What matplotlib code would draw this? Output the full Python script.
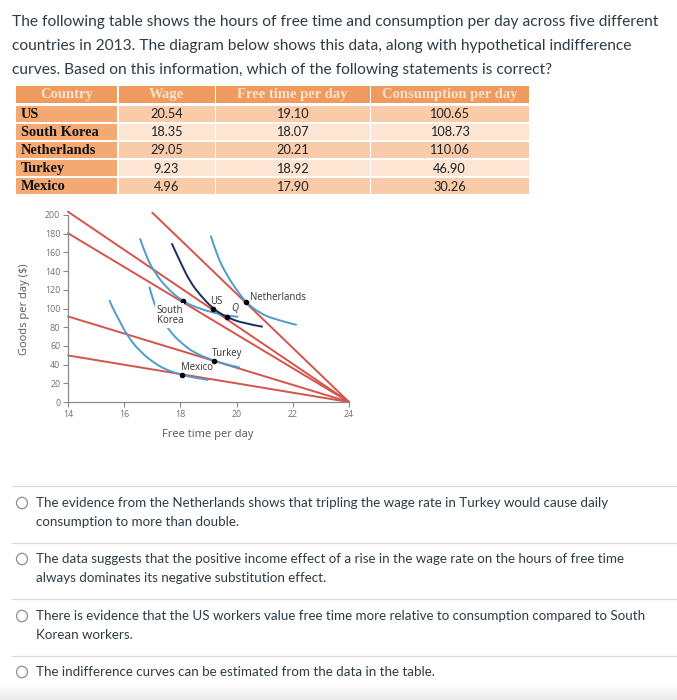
import matplotlib
matplotlib.use("Agg")
import matplotlib.pyplot as plt
from matplotlib.patches import Rectangle, Circle, PathPatch
from matplotlib.path import Path
import numpy as np

# ---------------- data ----------------
title_lines = [
    "The following table shows the hours of free time and consumption per day across five different",
    "countries in 2013. The diagram below shows this data, along with hypothetical indifference",
    "curves. Based on this information, which of the following statements is correct?",
]
table_header = ["Country", "Wage", "Free time per day", "Consumption per day"]
countries = ["US", "South Korea", "Netherlands", "Turkey", "Mexico"]
wage = ["20.54", "18.35", "29.05", "9.23", "4.96"]
free_time = ["19.10", "18.07", "20.21", "18.92", "17.90"]
consumption = ["100.65", "108.73", "110.06", "46.90", "30.26"]

# budget lines: start point (x, y), all end at (24, 0)
budget_x0 = [14, 14, 17, 14, 14]          # US, SK, NL, Turkey, Mexico
budget_y0 = [203.5, 180.5, 202.5, 91.5, 49.8]
budget_end = (24, 0)

# indifference curves
ic_mx_x = [15.47, 15.62, 15.79, 16.09, 16.56, 17.16, 17.6, 18.05, 18.5, 19.0]
ic_mx_y = [109.0, 98.5, 89.5, 71.7, 53.8, 39.6, 33.3, 28.9, 26.0, 23.5]
ic_tr_x = [16.89, 17.02, 17.16, 17.57, 18.10, 18.58, 19.2, 19.65, 20.12]
ic_tr_y = [123.3, 110.0, 98.4, 77.0, 61.0, 51.3, 44.2, 40.0, 36.7]
ic_sk_x = [16.56, 16.80, 17.10, 17.51, 18.08, 18.70, 19.29, 19.65, 20.06]
ic_sk_y = [175.0, 154.0, 138.0, 122.0, 107.5, 99.5, 94.8, 92.0, 91.2]
ic_us_x = [17.69, 17.99, 18.34, 18.70, 19.17, 19.65, 20.24, 20.93]
ic_us_y = [169.7, 150.0, 128.7, 114.4, 99.5, 90.6, 84.1, 80.5]
ic_nl_x = [19.08, 19.29, 19.65, 20.00, 20.33, 20.83, 21.43, 22.14]
ic_nl_y = [177.9, 157.2, 135.8, 119.8, 106.6, 94.8, 87.7, 82.4]

# points on the diagram
pt_names = ["US", "South\nKorea", "Netherlands", "Turkey", "Mexico", "Q"]
pt_x = [19.17, 18.08, 20.33, 19.20, 18.05, 19.65]
pt_y = [99.5, 107.5, 106.6, 44.2, 28.9, 90.6]
lbl_x = [19.27, 17.15, 20.48, 19.11, 18.01, 19.80]
lbl_y = [108.0, 92.5, 111.5, 52.4, 36.4, 99.5]

x_ticks = [14, 16, 18, 20, 22, 24]
y_ticks = [0, 20, 40, 60, 80, 100, 120, 140, 160, 180, 200]

options = [
    ["The evidence from the Netherlands shows that tripling the wage rate in Turkey would cause daily",
     "consumption to more than double."],
    ["The data suggests that the positive income effect of a rise in the wage rate on the hours of free time",
     "always dominates its negative substitution effect."],
    ["There is evidence that the US workers value free time more relative to consumption compared to South",
     "Korean workers."],
    ["The indifference curves can be estimated from the data in the table."],
]

# ---------------- figure ----------------
W, H = 677, 700
fig = plt.figure(figsize=(W / 100, H / 100), dpi=100)
fig.patch.set_facecolor("white")


def fx(px):
    return px / W


def fy(py):
    return 1 - py / H


TXT = "#2d3b45"
MAIN_FONT = ["Lato", "DejaVu Sans"]

# title
for i, line in enumerate(title_lines):
    fig.text(fx(12), fy(22 + 24 * i), line, fontsize=11.2, color=TXT,
             family=MAIN_FONT, va="center", ha="left")

# table
col_edges = [16, 118, 215, 370, 529]
hdr_top, hdr_h = 86, 16.5
row_top0, row_pitch, row_h = 105.5, 18.1, 16.5
HDR_COL = "#ef9a5e"
FIRST_COL = "#f4a872"
ROW_DARK = "#f9cba9"
ROW_LIGHT = "#fce5d3"
SERIF = ["Liberation Serif", "DejaVu Serif"]

for c in range(4):
    x0 = col_edges[c] + (1 if c > 0 else 0)
    w = col_edges[c + 1] - col_edges[c] - 1.5
    fig.patches.append(Rectangle((fx(x0), fy(hdr_top + hdr_h)), w / W, hdr_h / H,
                                 transform=fig.transFigure, facecolor=HDR_COL,
                                 edgecolor="none"))
    fig.text(fx((col_edges[c] + col_edges[c + 1]) / 2), fy(hdr_top + hdr_h / 2 + 0.5),
             table_header[c], fontsize=10.5, fontweight="bold", color="#fde3cb",
             family=SERIF, ha="center", va="center")

cols_data = [countries, wage, free_time, consumption]
for r in range(5):
    top = row_top0 + r * row_pitch
    for c in range(4):
        x0 = col_edges[c] + (1 if c > 0 else 0)
        w = col_edges[c + 1] - col_edges[c] - 1.5
        if c == 0:
            fc = FIRST_COL
        else:
            fc = ROW_DARK if r % 2 == 0 else ROW_LIGHT
        fig.patches.append(Rectangle((fx(x0), fy(top + row_h)), w / W, row_h / H,
                                     transform=fig.transFigure, facecolor=fc,
                                     edgecolor="none"))
        if c == 0:
            fig.text(fx(21), fy(top + row_h / 2 + 0.5), cols_data[c][r], fontsize=10.4,
                     fontweight="bold", color="#111111", family=SERIF,
                     ha="left", va="center")
        else:
            fig.text(fx((col_edges[c] + col_edges[c + 1]) / 2), fy(top + row_h / 2 + 0.5),
                     cols_data[c][r], fontsize=9.2, color="#222222",
                     family=["Lato", "DejaVu Sans"], ha="center", va="center")

# chart
ax_left, ax_right, ax_top, ax_bottom = 68, 349, 215, 402
ax = fig.add_axes([fx(ax_left), fy(ax_bottom), (ax_right - ax_left) / W,
                   (ax_bottom - ax_top) / H])
ax.set_xlim(14, 24)
ax.set_ylim(0, 200)
ax.set_facecolor("none")

RED = "#d4544c"
BLUE = "#4d9ccb"
NAVY = "#1b2d5c"

for x0, y0 in zip(budget_x0, budget_y0):
    ax.plot([x0, budget_end[0]], [y0, budget_end[1]], color=RED, lw=1.4,
            clip_on=False, solid_capstyle="round", zorder=2)


def smooth_path(xs, ys):
    """Quadratic B-spline style path through the read points (rendered by Path)."""
    pts = list(zip(xs, ys))
    verts = [pts[0]]
    codes = [Path.MOVETO]
    for i in range(1, len(pts) - 1):
        if i < len(pts) - 2:
            end = ((pts[i][0] + pts[i + 1][0]) / 2, (pts[i][1] + pts[i + 1][1]) / 2)
        else:
            end = pts[-1]
        verts += [pts[i], end]
        codes += [Path.CURVE3, Path.CURVE3]
    return Path(verts, codes)


for xs, ys, col in [(ic_mx_x, ic_mx_y, BLUE), (ic_tr_x, ic_tr_y, BLUE),
                    (ic_sk_x, ic_sk_y, BLUE), (ic_nl_x, ic_nl_y, BLUE),
                    (ic_us_x, ic_us_y, NAVY)]:
    patch = PathPatch(smooth_path(xs, ys), facecolor="none", edgecolor=col, lw=1.4,
                      clip_on=False, zorder=3, capstyle="butt")
    ax.add_patch(patch)

ax.scatter(pt_x, pt_y, s=9, color="black", zorder=5, clip_on=False)

LBL_FONT = ["Open Sans", "DejaVu Sans"]
for name, lx, ly in zip(pt_names, lbl_x, lbl_y):
    ha = "center" if name == "US" else "left"
    style = "italic" if name == "Q" else "normal"
    bbox = None
    if name.startswith("South"):
        bbox = dict(boxstyle="square,pad=0.15", facecolor="white", edgecolor="none")
    ax.text(lx, ly, name, fontsize=6.9, color="#333333", family=LBL_FONT,
            ha=ha, va="center", fontstyle=style, linespacing=0.95, zorder=6,
            bbox=bbox)

for side in ["top", "right"]:
    ax.spines[side].set_visible(False)
for side in ["left", "bottom"]:
    ax.spines[side].set_color("#8a8a8a")
    ax.spines[side].set_linewidth(0.9)
ax.set_xticks(x_ticks)
ax.set_yticks(y_ticks)
ax.tick_params(axis="both", direction="out", length=3.5, width=0.8,
               color="#8a8a8a", labelsize=6.4, labelcolor="#707070", pad=2)
for lab in ax.get_xticklabels() + ax.get_yticklabels():
    lab.set_family(LBL_FONT)

fig.text(fx(25), fy(309), "Goods per day ($)", rotation=90, fontsize=8,
         color="#555555", family=LBL_FONT, ha="center", va="center")
fig.text(fx(208), fy(435), "Free time per day", fontsize=8,
         color="#555555", family=LBL_FONT, ha="center", va="center")

# options
sep_y = [486, 543, 599, 656]
opt_y = [503, 559, 616, 672]
for sy in sep_y:
    fig.add_artist(plt.Line2D([fx(12), fx(676)], [fy(sy), fy(sy)],
                              transform=fig.transFigure, color="#dcdcdc", lw=0.9))
for lines, oy in zip(options, opt_y):
    fig.patches.append(Circle((fx(22), fy(oy)), 5.5 / W, transform=fig.transFigure,
                              facecolor="white", edgecolor="#8e8e8e", lw=0.9))
    for j, line in enumerate(lines):
        fig.text(fx(36), fy(oy + 19 * j), line, fontsize=9.65, color=TXT,
                 family=MAIN_FONT, ha="left", va="center")

# bottom shading
gax = fig.add_axes([0, 0, 1, 16 / H])
grad = np.linspace(0, 1, 50).reshape(-1, 1)
gax.imshow(grad, aspect="auto", cmap=matplotlib.colors.LinearSegmentedColormap.from_list(
    "g", ["#e9e9e9", "#ffffff"]), origin="lower", extent=[0, 1, 0, 1])
gax.axis("off")

fig.savefig("out.png", dpi=100, facecolor="white")
